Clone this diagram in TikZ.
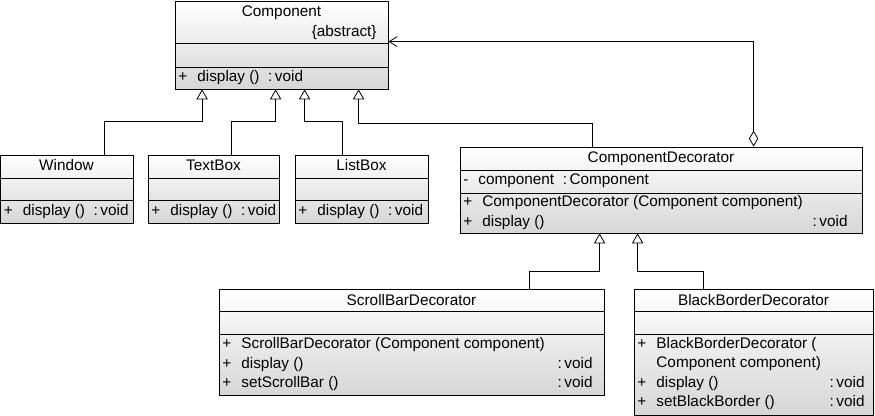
\documentclass[tikz,border=0pt]{standalone}
\usepackage{fontspec}
\setmainfont{Liberation Sans}
\usetikzlibrary{arrows.meta,calc,fit}
\newcommand\vis[1]{\makebox[14.25pt][l]{#1}}
\newcommand\vd{:\,void}
\begin{document}
\begin{tikzpicture}[x=0.75pt,y=-0.75pt,
  line width=0.6pt,
  cls/.style={draw, rectangle, inner sep=0pt, top color=white, bottom color=black!16},
  txt/.style={inner sep=0pt, font=\fontsize{11.5}{13}\selectfont},
  gen/.style={-{Triangle[open,length=7.5pt,width=8.5pt,fill=white]}},
  assoc/.style={{Diamond[open,length=12pt,width=7pt,fill=white]}-{Straight Barb[length=6pt,width=7.5pt]}}
]
\useasboundingbox (0,0) rectangle (875,416);
% boxes
\node[cls, fit={(175,1) (388,89)}] (comp) {};
\node[cls, fit={(0.5,155) (133,223)}] (window) {};
\node[cls, fit={(148,155) (279,223)}] (textbox) {};
\node[cls, fit={(295,155) (428,223)}] (listbox) {};
\node[cls, fit={(460,147) (862,233)}] (cdec) {};
\node[cls, fit={(219,289) (604,395)}] (sbd) {};
\node[cls, fit={(634,289) (873,415)}] (bbd) {};
% dividers
\foreach \n/\a/\b in {comp/43/67, window/178/200, textbox/178/200, listbox/178/200, cdec/170/193, sbd/311/334, bbd/311/334}{
  \draw (\n.west |- 0,\a) -- (\n.east |- 0,\a);
  \draw (\n.west |- 0,\b) -- (\n.east |- 0,\b);
}
% Component
\node[txt, anchor=base] (compn) at (281.5,17) {Component};
\node[txt, anchor=base east] (compa) at (377,37) {\{abstract\}};
\node[txt, anchor=base west] (compm) at (178,82) {\vis{+}display ()~~\vd};
% leaves
\node[txt, anchor=base] (windown) at (66.5,171) {Window};
\node[txt, anchor=base west] (windowm) at (3.5,216) {\vis{+}display ()~~\vd};
\node[txt, anchor=base] (textboxn) at (213.5,171) {TextBox};
\node[txt, anchor=base west] (textboxm) at (151,216) {\vis{+}display ()~~\vd};
\node[txt, anchor=base] (listboxn) at (361.5,171) {ListBox};
\node[txt, anchor=base west] (listboxm) at (298,216) {\vis{+}display ()~~\vd};
% ComponentDecorator
\node[txt, anchor=base] (cdecn) at (661,163) {ComponentDecorator};
\node[txt, anchor=base west] (cdeca) at (463,185) {\makebox[11.25pt][l]{-}component~~:\,Component};
\node[txt, anchor=base west] (cdecm1) at (463,207) {\vis{+}ComponentDecorator (Component component)};
\node[txt, anchor=base west] (cdecm2) at (463,227) {\vis{+}display ()};
\node[txt, anchor=base east] (cdecv2) at (848,227) {\vd};
% ScrollBarDecorator
\node[txt, anchor=base] (sbdn) at (411.5,306) {ScrollBarDecorator};
\node[txt, anchor=base west] (sbdm1) at (222,349) {\vis{+}ScrollBarDecorator (Component component)};
\node[txt, anchor=base west] (sbdm2) at (222,369) {\vis{+}display ()};
\node[txt, anchor=base east] (sbdv2) at (593,369) {\vd};
\node[txt, anchor=base west] (sbdm3) at (222,388) {\vis{+}setScrollBar ()};
\node[txt, anchor=base east] (sbdv3) at (593,388) {\vd};
% BlackBorderDecorator
\node[txt, anchor=base] (bbdn) at (753.5,306) {BlackBorderDecorator};
\node[txt, anchor=base west] (bbdm1) at (637,349) {\vis{+}BlackBorderDecorator (};
\node[txt, anchor=base west] (bbdm1b) at (637,368) {\vis{}Component component)};
\node[txt, anchor=base west] (bbdm2) at (637,388) {\vis{+}display ()};
\node[txt, anchor=base east] (bbdv2) at (865,388) {\vd};
\node[txt, anchor=base west] (bbdm3) at (637,407) {\vis{+}setBlackBorder ()};
\node[txt, anchor=base east] (bbdv3) at (865,407) {\vd};
% generalizations
\draw[gen] ($(window.north west)+(104.5,0)$) -- ++(0,-33) -| ($(comp.south west)+(27.5,0)$);
\draw[gen] ($(textbox.north west)+(84,0)$) -- ++(0,-33) -| ($(comp.south west)+(101,0)$);
\draw[gen] ($(listbox.north west)+(48,0)$) -- ++(0,-33) -| ($(comp.south west)+(130,0)$);
\draw[gen] ($(cdec.north west)+(133,0)$) -- ++(0,-23) -| ($(comp.south west)+(184,0)$);
\draw[gen] ($(sbd.north west)+(311,0)$) -- ++(0,-17) -| ($(cdec.south west)+(140,0)$);
\draw[gen] ($(bbd.north west)+(70,0)$) -- ++(0,-17) -| ($(cdec.south west)+(178,0)$);
% aggregation
\draw[assoc] ($(cdec.north west)+(294,0)$) |- ($(comp.north east)+(0,41)$);
\end{tikzpicture}
\end{document}
